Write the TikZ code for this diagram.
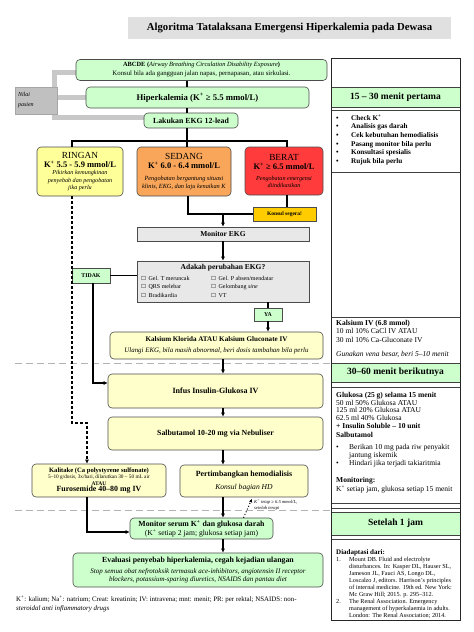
\documentclass[tikz,border=0pt]{standalone}
\usepackage{fontspec}
\setmainfont{Liberation Serif}
\newfontfamily\djv{DejaVu Sans}
\usetikzlibrary{arrows.meta,calc}
\pgfdeclarelayer{background}
\pgfsetlayers{background,main}
\definecolor{gfill}{HTML}{CCFFCC}
\definecolor{yfill}{HTML}{FFFFCC}
\definecolor{ringanc}{HTML}{FFFF99}
\definecolor{sedangc}{HTML}{F9A65A}
\definecolor{beratc}{HTML}{FF3B3B}
\definecolor{konsulc}{HTML}{FFCC00}
\definecolor{grayfill}{HTML}{E8E8E8}
\definecolor{nilaic}{HTML}{C0C0C0}
\definecolor{barc}{HTML}{C8C8C8}
\definecolor{titlec}{HTML}{E0E0E0}
\newcommand{\chkbx}{{\djv\fontsize{5.5}{6}\selectfont ☐}\hspace{2.5pt}}
\newcommand{\rbul}{\makebox[15pt][l]{\textbullet}}
\newcommand{\rbb}{\makebox[13pt][l]{\textbullet}}
\newcommand{\fs}[2]{\fontsize{#1}{#2}\selectfont}
\begin{document}
\begin{tikzpicture}[x=1pt,y=-1pt,
  box/.style={draw=black!70, line width=0.6pt, rounded corners=4pt, align=center, inner sep=1pt},
  sqbox/.style={draw=black!70, line width=0.6pt, align=center, inner sep=1pt},
  conn/.style={line width=1.3pt},
  arr/.style={conn, -{Latex[length=4pt,width=4pt]}},
  gbar/.style={line width=5pt, color=barc},
  rtext/.style={anchor=north west, inner sep=0pt, align=left},
  sep/.style={gray!60, line width=0.8pt, dash pattern=on 7pt off 4pt}
]
\useasboundingbox (0,0) rectangle (474,632);

% title
\node[fill=titlec, minimum width=323pt, minimum height=22pt, font=\fs{10.7}{12}\bfseries] (title) at (289.5,28) {Algoritma Tatalaksana Emergensi Hiperkalemia pada Dewasa};

% right column
\fill[gfill] (331,87) rectangle (460,107);
\fill[gfill] (331,363) rectangle (460,382);
\fill[gfill] (331,512) rectangle (460,535);
\draw[line width=0.6pt, black!75] (331,87) -- (460,87) (331,107) -- (460,107) (331,110) -- (460,110)
  (331,172) -- (460,172) (331,317) -- (460,317) (331,363) -- (460,363) (331,382) -- (460,382)
  (331,387) -- (460,387) (331,503) -- (460,503) (331,508) -- (460,508) (331,512) -- (460,512)
  (331,535) -- (460,535) (331,539) -- (460,539);
\draw[line width=1pt, black!85] (331,58) rectangle (460,620);

\node[font=\fs{9.5}{11}\bfseries] (b1) at (395.5,97) {15 – 30 menit pertama};
\node[font=\fs{9.5}{11}\bfseries] (b2) at (395.5,372.5) {30–60 menit berikutnya};
\node[font=\fs{9.5}{11}\bfseries] (b3) at (395.5,523.5) {Setelah 1 jam};

\node[rtext, font=\fs{7.2}{8.7}\bfseries] (r1) at (336,114) {\rbul Check K\textsuperscript{+}\\\rbul Analisis gas darah\\\rbul Cek kebutuhan hemodialisis\\\rbul Pasang monitor bila perlu\\\rbul Konsultasi spesialis\\\rbul Rujuk bila perlu};

\node[rtext, font=\fs{7.5}{8.4}] (r2) at (336,320) {\textbf{Kalsium IV (6.8 mmol)}\\10 ml 10\% CaCl IV ATAU\\30 ml 10\% Ca-Gluconate IV\\[6pt]\textit{Gunakan vena besar, beri 5–10 menit}};

\node[rtext, font=\fs{7.5}{7.7}] (r3) at (336,392) {\textbf{Glukosa (25 g) selama 15 menit}\\50 ml 50\% Glukosa ATAU\\125 ml 20\% Glukosa ATAU\\62.5 ml 40\% Glukosa\\\textbf{+ Insulin Soluble – 10 unit}\\[1.5pt]\textbf{Salbutamol}\\[4.5pt]\rbb Berikan 10 mg pada riw penyakit\\\hspace*{13pt}jantung iskemik\\[0.6pt]\rbb Hindari jika terjadi takiaritmia\\[9pt]\textbf{Monitoring:}\\[1.5pt]K\textsuperscript{+} setiap jam, glukosa setiap 15 menit};

\node[rtext, font=\fs{6.2}{7}] (r4) at (336,549.5) {{\fs{7}{8}\bfseries Diadaptasi dari:}\\
\makebox[13pt][l]{1.}Mount DB. Fluid and electrolyte\\
\hspace*{13pt}disturbances. In: Kasper DL, Hauser SL,\\
\hspace*{13pt}Jameson JL, Fauci AS, Longo DL,\\
\hspace*{13pt}Loscalzo J, editors. Harrison's principles\\
\hspace*{13pt}of internal medicine. 19th ed. New York:\\
\hspace*{13pt}Mc Graw Hill; 2015. p. 295–312.\\
\makebox[13pt][l]{2.}The Renal Association. Emergency\\
\hspace*{13pt}management of hyperkalaemia in adults.\\
\hspace*{13pt}London: The Renal Association; 2014.};

% separators
\draw[sep] (15,363) -- (331,363);
\draw[sep] (15,510) -- (331,510);

% left flow boxes
\node[box, fill=gfill, minimum width=251pt, minimum height=21pt, font=\fs{6.4}{9}] (abcde) at (201.5,70)
  {\textbf{ABCDE (}\textit{Airway Breathing Circulation Disability Exposure}\textbf{)}\\{\fs{6.8}{8}Konsul bila ada gangguan jalan napas, pernapasan, atau sirkulasi.}};
\node[box, fill=gfill, minimum width=223pt, minimum height=21pt, font=\fs{8.7}{9}\bfseries] (hiper) at (197.5,97.5) {Hiperkalemia (K\textsuperscript{+} ≥ 5.5 mmol/L)};
\node[box, fill=gfill, minimum width=94pt, minimum height=15pt, font=\fs{7.8}{8}\bfseries] (lakukan) at (191,120.5) {Lakukan EKG 12-lead};
\node[draw=gray!70, fill=nilaic, minimum width=42pt, minimum height=27pt, text width=36pt, align=left, inner sep=2pt, font=\fs{6}{10}\itshape] (nilai) at (36,100.5) {Nilai\\pasien};

\node[box, fill=ringanc, minimum width=86pt, minimum height=49pt, font=\fs{6.1}{7.3}] (ringan) at (80,171.5)
  {{\fs{9.3}{10}RINGAN}\\[1.5pt]{\fs{8.5}{9}\bfseries K\textsuperscript{+} 5.5 - 5.9 mmol/L}\\[0.5pt]\textit{Pikirkan kemungkinan}\\\textit{penyebab dan pengobatan}\\\textit{jika perlu}};
\node[box, fill=sedangc, minimum width=94pt, minimum height=49pt, font=\fs{6.3}{7.8}] (sedang) at (184,171.5)
  {{\fs{9.3}{10}SEDANG}\\[1.5pt]{\fs{8.5}{9}\bfseries K\textsuperscript{+} 6.0 - 6.4 mmol/L}\\[4pt]\textit{Pengobatan bergantung situasi}\\\textit{klinis, EKG, dan laju kenaikan K}};
\node[box, fill=beratc, minimum width=78pt, minimum height=48pt, font=\fs{6.1}{7.3}] (berat) at (284,171)
  {{\fs{9.3}{10}BERAT}\\[1.5pt]{\fs{8.5}{9}\bfseries K\textsuperscript{+} ≥ 6.5 mmol/L}\\[4pt]\textit{Pengobatan emergensi}\\\textit{diindikasikan}};
\node[sqbox, fill=konsulc, minimum width=63pt, minimum height=14pt, font=\fs{5.5}{6.5}\bfseries] (konsul) at (284.5,214) {Konsul segera!};

\node[sqbox, fill=grayfill, minimum width=172pt, minimum height=14pt, font=\fs{7.5}{8}\bfseries] (monekg) at (223,234) {Monitor EKG};
\node[sqbox, fill=grayfill, minimum width=172pt, minimum height=41pt] (adakah) at (223,281.5) {};
\node[font=\fs{7.5}{8}\bfseries, inner sep=0pt] (adq) at (223,268) {Adakah perubahan EKG?};
\node[anchor=west, align=left, inner sep=0pt, font=\fs{6}{8.5}] (ckl) at (141,286.5) {\chkbx Gel. T meruncak\\\chkbx QRS melebar\\\chkbx Bradikardia};
\node[anchor=west, align=left, inner sep=0pt, font=\fs{6}{8.5}] (ckr) at (211,286.5) {\chkbx Gel. P absen/mendatar\\\chkbx Gelombang \textit{sine}\\\chkbx VT};

\node[sqbox, fill=gfill, minimum width=38pt, minimum height=15pt, font=\fs{5.8}{6.5}\bfseries] (tidak) at (91,275.5) {TIDAK};
\node[sqbox, fill=gfill, minimum width=28pt, minimum height=13pt, font=\fs{5.8}{6.5}\bfseries] (ya) at (268,314.5) {YA};

\node[box, fill=yfill, minimum width=213pt, minimum height=27pt, font=\fs{6.9}{11}] (kalsium) at (216.5,345.5)
  {{\fs{7.1}{8}\bfseries Kalsium Klorida ATAU Kalsium Gluconate IV}\\\textit{Ulangi EKG, bila masih abnormal, beri dosis tambahan bila perlu}};
\node[box, fill=yfill, minimum width=215pt, minimum height=34pt, font=\fs{8}{8}\bfseries] (infus) at (215.5,391) {Infus Insulin-Glukosa IV};
\node[box, fill=yfill, minimum width=215pt, minimum height=33pt, font=\fs{7.8}{8}\bfseries] (salb) at (215.5,433.5) {Salbutamol 10-20 mg via Nebuliser};
\node[box, fill=yfill, minimum width=128pt, minimum height=32pt, font=\fs{7.6}{13}] (pert) at (244,481)
  {{\fs{7.9}{8}\bfseries Pertimbangkan hemodialisis}\\\textit{Konsul bagian HD}};
\node[box, fill=yfill, minimum width=134pt, minimum height=33pt, font=\fs{5.3}{6.3}] (kalitake) at (99,480.5)
  {{\fs{6.6}{7}\bfseries Kalitake (Ca polystyrene sulfonate)}\\5–10 g/dosis, 3x/hari, dilarutkan 30 – 50 mL air\\[0.8pt]{\fs{5.5}{6}\bfseries ATAU}\\{\fs{7.9}{8.5}\bfseries Furosemide 40–80 mg IV}};
\node[box, fill=gfill, minimum width=143pt, minimum height=21pt, font=\fs{7.6}{9}] (monser) at (201.5,528.5)
  {{\fs{7.8}{8}\bfseries Monitor serum K\textsuperscript{+} dan glukosa darah}\\(K\textsuperscript{+} setiap 2 jam; glukosa setiap jam)};
\node[box, fill=gfill, minimum width=250pt, minimum height=34pt, font=\fs{7}{8}] (eval) at (198,570)
  {{\fs{7.8}{8}\bfseries Evaluasi penyebab hiperkalemia, cegah kejadian ulangan}\\[3pt]\textit{Stop semua obat nefrotoksik termasuk ace-inhibitors, angiotensin II receptor}\\\textit{blockers, potassium-sparing diuretics, NSAIDS dan pantau diet}};

\node[anchor=west, align=left, inner sep=0pt, font=\fs{4.6}{5.5}\itshape] (lbl) at (254,505) {K\textsuperscript{+} tetap ≥ 6.5 mmol/L,\\setelah terapi};

\node[anchor=north west, align=left, inner sep=0pt, font=\fs{6.9}{8.7}] (foot) at (16,596) {K\textsuperscript{+}: kalium; Na\textsuperscript{+}: natrium; Creat: kreatinin; IV: intravena; mnt: menit; PR: per rektal; NSAIDS: non-\\\textit{steroidal anti inflammatory drugs}};

% coordinates
\coordinate (sp) at (187,0);
\coordinate (bj) at (187,141);
\coordinate (bl) at (72,141);
\coordinate (br) at (287,141);
\coordinate (sj) at (188,0);
\coordinate (mx) at (223,0);
\coordinate (tx) at (93,0);
\coordinate (ty) at (0,383);
\coordinate (dk) at (87,423);
\coordinate (ky) at (0,532);

% gray bars
\begin{pgfonlayer}{background}
\draw[gbar] ([xshift=-3pt]nilai.north east) |- ([yshift=-2pt]abcde.west);
\draw[gbar] (nilai.east |- hiper.west) -- (hiper.west);
\draw[gbar] ([xshift=-3pt]nilai.south east) |- ([yshift=3pt]lakukan.west);
\end{pgfonlayer}

% connectors
\draw[conn] (abcde.south -| sp) -- (hiper.north -| sp);
\draw[conn] (hiper.south -| sp) -- (lakukan.north -| sp);
\draw[conn] (lakukan.south -| bj) -- (bj);
\draw[conn] (ringan.north -| bl) -- (bl) -- (br) -- (berat.north -| br);
\draw[conn] (bj) -- (sedang.north -| bj);
\draw[conn] (sedang.south -| sj) |- (konsul.west);
\draw[conn] (berat.south -| br) -- (konsul.north -| br);
\draw[arr] (monekg.north |- konsul.west) -- (monekg.north);
\draw[arr] (monekg.south) -- (adakah.north);
\draw[conn] (adakah.west |- tidak.east) -- (tidak.east);
\draw[conn] (ya.north |- adakah.south) -- (ya.north);
\draw[arr] (ya.south) -- (ya.south |- kalsium.north);
\draw[arr] (kalsium.south -| mx) -- (infus.north -| mx);
\draw[arr] (infus.south -| mx) -- (salb.north -| mx);
\draw[arr] (salb.south -| mx) -- (pert.north -| mx);
\draw[arr] (pert.south -| mx) -- (monser.north -| mx);
\draw[arr] (monser.south -| mx) -- (eval.north -| mx);
\draw[arr] (tidak.south -| tx) |- (ty -| infus.west);
\draw[arr, dash pattern=on 3pt off 2pt] (ringan.south -| bl) |- (dk) -- (kalitake.north -| dk);
\draw[arr] (kalitake.south -| dk) |- (ky -| monser.west);
\draw[dotted, line width=1pt, -{Latex[length=3.5pt,width=3.5pt]}] ($(monser.north)+(42,0)$) -- ($(pert.south)+(8,1.5)$);
\end{tikzpicture}
\end{document}
